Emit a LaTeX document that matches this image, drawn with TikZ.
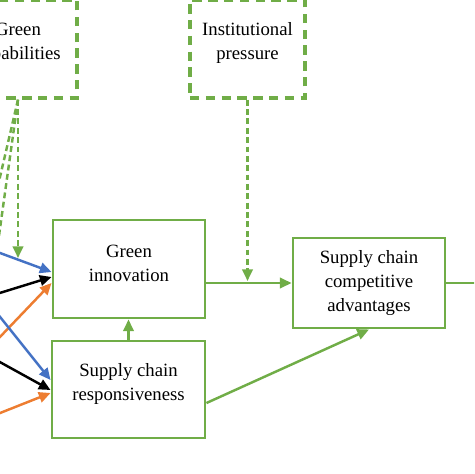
\documentclass[tikz,border=0pt]{standalone}
\usepackage{fontspec}
\setmainfont{Liberation Serif}
\usetikzlibrary{arrows.meta, positioning, calc}
\definecolor{BoxGreen}{HTML}{70AD47}
\definecolor{LinkBlue}{HTML}{4472C4}
\definecolor{LinkOrange}{HTML}{ED7D31}
\tikzset{
  construct/.style={draw=BoxGreen, line width=2.5pt, fill=white, align=center, inner sep=0pt, font=\fontsize{16}{20.5}\selectfont},
  moderator/.style={construct, dash pattern=on 8pt off 5.5pt, line width=2.8pt},
  link/.style={-{Triangle[length=10pt,width=9pt]}, line width=2.1pt},
  modlink/.style={link, BoxGreen, dash pattern=on 5pt off 3pt},
  modline/.style={BoxGreen, line width=2.1pt, dash pattern=on 5pt off 3pt}
}

\begin{document}
\begin{tikzpicture}[x=0.03cm, y=-0.03cm]
  \useasboundingbox (0,0) rectangle (474,474);
  \clip (0,0) rectangle (474,474);

  % constructs
  \node[moderator, minimum width=3.54cm, minimum height=2.94cm, text depth=13.5pt] (gc) at (18,49) {Green\\capabilities};
  \node[moderator, minimum width=3.45cm, minimum height=2.94cm, text depth=13.5pt] (ip) at (247.5,49) {Institutional\\pressure};
  \node[construct, minimum width=4.56cm, minimum height=2.94cm, text depth=10pt] (gi) at (129,269) {Green\\innovation};
  \node[construct, minimum width=4.59cm, minimum height=2.91cm, text depth=13.5pt] (scr) at (128.5,389.5) {Supply chain\\responsiveness};
  \node[construct, minimum width=4.56cm, minimum height=2.7cm] (scca) at (369,283) {Supply chain\\competitive\\advantages};

  % free ends outside the frame
  \coordinate (blueA) at (-10,249.3);
  \coordinate (blackA) at (-10,296);
  \coordinate (orangeA) at (-10,347.4);
  \coordinate (blueB) at (-10,304.4);
  \coordinate (blackB) at (-10,356.6);
  \coordinate (orangeB) at (-10,417);
  \coordinate (gcTip) at (18,258);
  \coordinate (gcLeftA) at (-10,220);
  \coordinate (gcLeftB) at (-10,300);
  \coordinate (ipTip) at (247.5,281);
  \coordinate (outR) at (480,283);

  % incoming paths
  \draw[link, LinkBlue] (blueA) -- ($(gi.west)+(0,3)$);
  \draw[link, black] (blackA) -- ($(gi.west)+(0,8)$);
  \draw[link, LinkOrange] (orangeA) -- ($(gi.west)+(0,14)$);
  \draw[link, LinkBlue] (blueB) -- ($(scr.west)+(0,-9.5)$);
  \draw[link, black] (blackB) -- ($(scr.west)+(0,0.5)$);
  \draw[link, LinkOrange] (orangeB) -- ($(scr.west)+(0,3.5)$);

  % moderating paths
  \draw[modline] (gc.south) -- (gcLeftA);
  \draw[modline] (gc.south) -- (gcLeftB);
  \draw[modlink] (gc.south) -- (gcTip);
  \draw[modlink] (ip.south) -- (ipTip);

  % main paths
  \draw[link, BoxGreen] (scr.north) -- (scr.north |- gi.south);
  \draw[link, BoxGreen] (gi.east |- scca.west) -- (scca.west);
  \draw[link, BoxGreen] ($(scr.east)+(0,13.5)$) -- (scca.south);
  \draw[BoxGreen, line width=2.1pt] (scca.east) -- (outR);
\end{tikzpicture}
\end{document}
